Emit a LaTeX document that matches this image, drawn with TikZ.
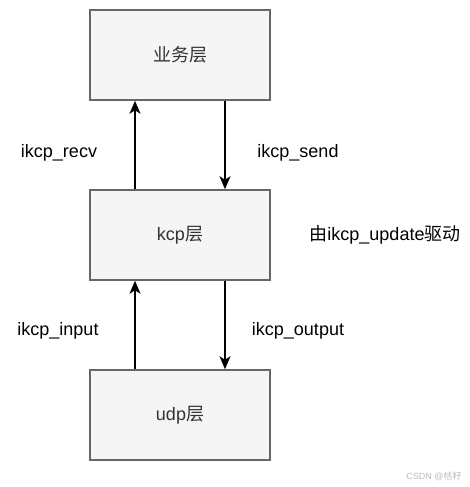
\documentclass[tikz,border=0pt]{standalone}
\usepackage{fontspec}
\setmainfont{Liberation Sans}
\newfontfamily\cjk{Noto Sans CJK SC}
\usetikzlibrary{arrows.meta}
\definecolor{boxfill}{HTML}{F5F5F5}
\definecolor{boxline}{HTML}{666666}
\definecolor{boxtext}{HTML}{333333}
\definecolor{wm}{HTML}{BBBBBB}
\begin{document}
\begin{tikzpicture}[x=1pt,y=-1pt,
  layer/.style={draw=boxline,fill=boxfill,line width=1.5pt,minimum width=180pt,minimum height=90pt,inner sep=0pt,text=boxtext,font=\fontsize{18pt}{20pt}\selectfont},
  lbl/.style={font=\fontsize{18pt}{20pt}\selectfont,text=black,inner sep=0pt},
  flow/.style={line width=1.5pt,-{Stealth[length=13pt,width=11pt,inset=3.5pt]}}]
\useasboundingbox (0,0) rectangle (469,487);
\node[layer] (biz) at (180,55) {{\cjk 业务层}};
\node[layer] (kcp) at (180,235) {kcp{\cjk 层}};
\node[layer] (udp) at (180,415) {udp{\cjk 层}};
\draw[flow] ([xshift=-45pt]kcp.north) -- ([xshift=-45pt]biz.south);
\draw[flow] ([xshift=45pt]biz.south) -- ([xshift=45pt]kcp.north);
\draw[flow] ([xshift=-45pt]udp.north) -- ([xshift=-45pt]kcp.south);
\draw[flow] ([xshift=45pt]kcp.south) -- ([xshift=45pt]udp.north);
\node[lbl] (recv) at (59,153) {ikcp\_recv};
\node[lbl] (send) at (298,153) {ikcp\_send};
\node[lbl] (input) at (58,331) {ikcp\_input};
\node[lbl] (output) at (298,331) {ikcp\_output};
\node[lbl] (upd) at (385,235) {{\cjk 由}ikcp\_update{\cjk 驱动}};
\node[inner sep=0pt,text=wm,font=\fontsize{9pt}{10pt}\selectfont] (mark) at (434,476) {CSDN @{\cjk 桔籽}};
\end{tikzpicture}
\end{document}
